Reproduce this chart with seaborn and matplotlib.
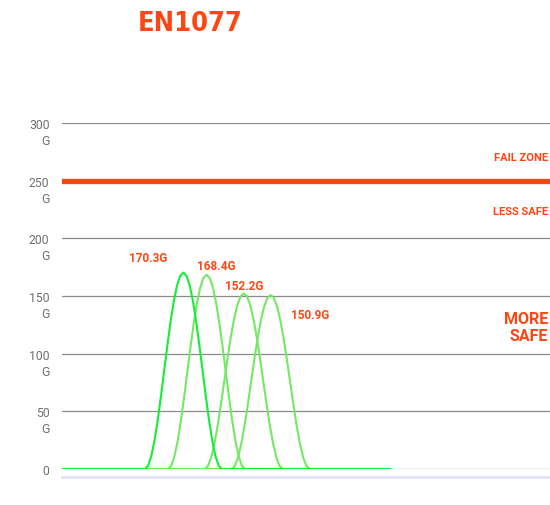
import numpy as np
import pandas as pd
import seaborn as sns
import matplotlib.pyplot as plt
from matplotlib.transforms import ScaledTranslation

# impact tests, EN1077 helmets (time in ms, acceleration in G)
peaks = [170.3, 168.4, 152.2, 150.9]
peak_labels = ["170.3G", "168.4G", "152.2G", "150.9G"]
pulse_start = [6.8, 8.7, 11.7, 13.9]
pulse_end = [13.1, 15.0, 18.1, 20.3]
trace_end = 26.9

# acceleration read along the rising half of each pulse (13 samples, start to peak);
# the pulses are symmetric, the falling half mirrors it
rise_1 = [0, 2.9, 11.4, 24.9, 42.6, 63.1, 85.2, 107.2, 127.7, 145.4, 158.9, 167.4, 170.3]
rise_2 = [0, 2.9, 11.3, 24.7, 42.1, 62.4, 84.2, 106.0, 126.3, 143.7, 157.1, 165.5, 168.4]
rise_3 = [0, 2.6, 10.2, 22.3, 38.1, 56.4, 76.1, 95.8, 114.2, 129.9, 142.0, 149.6, 152.2]
rise_4 = [0, 2.6, 10.1, 22.1, 37.7, 55.9, 75.5, 95.0, 113.2, 128.8, 140.8, 148.3, 150.9]
rises = [rise_1, rise_2, rise_3, rise_4]

y_ticks = [0, 50, 100, 150, 200, 250, 300]
y_tick_labels = ["0", "50\nG", "100\nG", "150\nG", "200\nG", "250\nG", "300\nG"]
fail_level = 250
zone_labels = ["FAIL ZONE", "LESS SAFE", "MORE\nSAFE"]

RED = "#ff4612"
colors = ["#14ee36", "#74e866", "#74e866", "#74e866"]

rows = []
for i, rise in enumerate(rises):
    acc = rise + rise[-2::-1]
    n = len(acc)
    times = [pulse_start[i] + (pulse_end[i] - pulse_start[i]) * k / (n - 1) for k in range(n)]
    rows.append({"test": i, "time": 0.0, "g": 0.0})
    for t, g in zip(times, acc):
        rows.append({"test": i, "time": t, "g": g})
    rows.append({"test": i, "time": trace_end, "g": 0.0})
df = pd.DataFrame(rows)

sns.set_theme(style="white")
plt.rcParams["font.family"] = ["Roboto", "DejaVu Sans"]

fig = plt.figure(figsize=(5.5, 5.05), dpi=100)
ax = fig.add_axes([62 / 550, 1 - 469 / 505, 488 / 550, (469 - 123) / 505])

# grid lines
for y in y_ticks:
    if y == fail_level:
        continue
    ax.axhline(y, color="#8a8a8a", lw=0.9, zorder=1)
ax.axhline(fail_level, color=RED, lw=3.8, zorder=2)

# later tests drawn first so the first one ends up on top at the baseline
for i in reversed(range(len(rises))):
    sns.lineplot(data=df[df["test"] == i], x="time", y="g", color=colors[i],
                 lw=1.5, ax=ax, estimator=None, sort=False, zorder=3 + (4 - i),
                 solid_joinstyle="round")

ax.set_xlim(0, 40)
ax.set_ylim(0, 300)
ax.set_xlabel("")
ax.set_ylabel("")
ax.set_xticks([])
ax.set_yticks(y_ticks)
ax.set_yticklabels(y_tick_labels, fontsize=8.8, color="#707070", linespacing=1.3)
ax.tick_params(axis="y", length=0, pad=9)
for lab in ax.get_yticklabels():
    lab.set_verticalalignment("top")
    lab.set_horizontalalignment("right")
    lab.set_transform(lab.get_transform() + ScaledTranslation(0, 3 / 72, fig.dpi_scale_trans))

for s in ["top", "right", "left"]:
    ax.spines[s].set_visible(False)
ax.spines["bottom"].set_position(("outward", 6))
ax.spines["bottom"].set_color("#e4e7f3")
ax.spines["bottom"].set_linewidth(2.2)

# peak labels
offsets = [(-25.5, 10.5), (7, 6), (0.5, 5), (28.5, -15)]
for i, p in enumerate(peaks):
    t_peak = (pulse_start[i] + pulse_end[i]) / 2
    ax.annotate(peak_labels[i], xy=(t_peak, p), xytext=offsets[i], textcoords="offset points",
                ha="center", va="center", fontsize=8.5, fontweight="bold", color=RED)

# zone labels
ax.text(0.996, 270, zone_labels[0], transform=ax.get_yaxis_transform(), ha="right", va="center",
        fontsize=8, fontweight="bold", color=RED)
ax.text(0.996, 222.5, zone_labels[1], transform=ax.get_yaxis_transform(), ha="right", va="center",
        fontsize=8, fontweight="bold", color=RED)
ax.text(0.996, 122.5, zone_labels[2], transform=ax.get_yaxis_transform(), ha="right", va="center",
        fontsize=11.5, fontweight="bold", color=RED, linespacing=1.15, multialignment="right")

fig.text(190 / 550, 1 - 24 / 505, "EN1077", ha="center", va="center", fontsize=19.5,
         fontweight="bold", fontstretch="condensed", color=RED,
         family=["DejaVu Sans", "Roboto"])

fig.savefig("out.png", dpi=100)
